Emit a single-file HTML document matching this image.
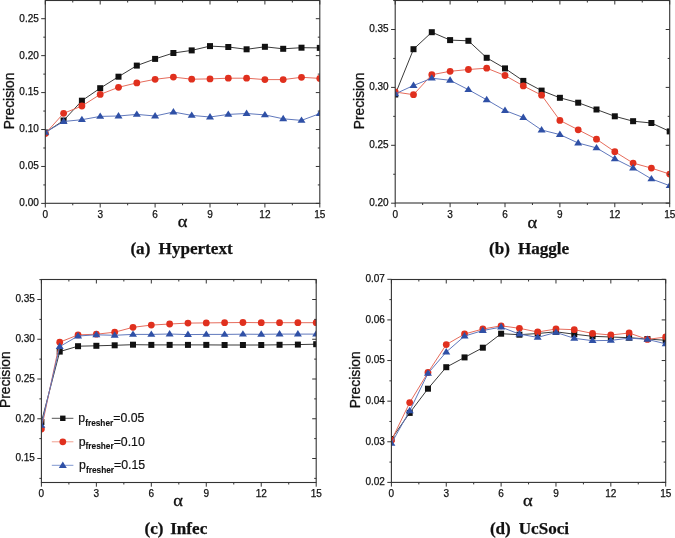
<!DOCTYPE html>
<html><head><meta charset="utf-8"><title>Precision vs alpha</title><style>
html,body{margin:0;padding:0;background:#fff;}
body{width:675px;height:538px;overflow:hidden;}
svg{display:block;}
.tl{font-family:"Liberation Sans",Arial,sans-serif;font-size:10px;fill:#111;stroke:#111;stroke-width:0.25px;}
.yl{font-family:"Liberation Sans",Arial,sans-serif;font-size:13.8px;fill:#111;stroke:#111;stroke-width:0.3px;}
.al{font-family:"Liberation Serif","Times New Roman",serif;font-size:16px;fill:#111;stroke:#111;stroke-width:0.3px;}
.cap{font-family:"Liberation Serif","Times New Roman",serif;font-size:17.1px;font-weight:bold;fill:#111;stroke:#111;stroke-width:0.25px;}
.lg{font-family:"Liberation Sans",Arial,sans-serif;font-size:12.3px;fill:#111;stroke:#111;stroke-width:0.2px;}
.sub{font-size:8.3px;font-weight:bold;stroke-width:0.1px;}
</style></head>
<body>
<svg width="675" height="538" viewBox="0 0 675 538">
<rect width="100%" height="100%" fill="#fff"/>
<defs>
<clipPath id="ca"><rect x="45.3" y="0.5" width="274.50" height="202.80"/></clipPath>
<clipPath id="cb"><rect x="395.2" y="0.5" width="274.50" height="202.50"/></clipPath>
<clipPath id="cc"><rect x="41.4" y="279.5" width="274.80" height="203.00"/></clipPath>
<clipPath id="cd"><rect x="391.4" y="279.5" width="274.30" height="202.90"/></clipPath>
</defs>
<g clip-path="url(#ca)">
<polyline points="45.30,132.50 63.60,120.50 81.90,100.70 100.20,88.20 118.50,76.70 136.80,65.60 155.10,58.90 173.40,53.00 191.70,50.40 210.00,46.10 228.30,47.00 246.60,49.30 264.90,46.80 283.20,48.80 301.50,47.70 319.80,47.90" fill="none" stroke="#3a3a3a" stroke-width="1"/>
<rect x="42.30" y="129.50" width="6.0" height="6.0" fill="#111"/>
<rect x="60.60" y="117.50" width="6.0" height="6.0" fill="#111"/>
<rect x="78.90" y="97.70" width="6.0" height="6.0" fill="#111"/>
<rect x="97.20" y="85.20" width="6.0" height="6.0" fill="#111"/>
<rect x="115.50" y="73.70" width="6.0" height="6.0" fill="#111"/>
<rect x="133.80" y="62.60" width="6.0" height="6.0" fill="#111"/>
<rect x="152.10" y="55.90" width="6.0" height="6.0" fill="#111"/>
<rect x="170.40" y="50.00" width="6.0" height="6.0" fill="#111"/>
<rect x="188.70" y="47.40" width="6.0" height="6.0" fill="#111"/>
<rect x="207.00" y="43.10" width="6.0" height="6.0" fill="#111"/>
<rect x="225.30" y="44.00" width="6.0" height="6.0" fill="#111"/>
<rect x="243.60" y="46.30" width="6.0" height="6.0" fill="#111"/>
<rect x="261.90" y="43.80" width="6.0" height="6.0" fill="#111"/>
<rect x="280.20" y="45.80" width="6.0" height="6.0" fill="#111"/>
<rect x="298.50" y="44.70" width="6.0" height="6.0" fill="#111"/>
<rect x="316.80" y="44.90" width="6.0" height="6.0" fill="#111"/>
<polyline points="45.30,133.60 63.60,113.30 81.90,106.00 100.20,94.40 118.50,87.30 136.80,82.90 155.10,79.30 173.40,77.10 191.70,79.20 210.00,78.90 228.30,78.20 246.60,78.20 264.90,79.60 283.20,79.60 301.50,77.30 319.80,78.40" fill="none" stroke="#e66c5c" stroke-width="1"/>
<circle cx="45.30" cy="133.60" r="3.4" fill="#e0301e"/>
<circle cx="63.60" cy="113.30" r="3.4" fill="#e0301e"/>
<circle cx="81.90" cy="106.00" r="3.4" fill="#e0301e"/>
<circle cx="100.20" cy="94.40" r="3.4" fill="#e0301e"/>
<circle cx="118.50" cy="87.30" r="3.4" fill="#e0301e"/>
<circle cx="136.80" cy="82.90" r="3.4" fill="#e0301e"/>
<circle cx="155.10" cy="79.30" r="3.4" fill="#e0301e"/>
<circle cx="173.40" cy="77.10" r="3.4" fill="#e0301e"/>
<circle cx="191.70" cy="79.20" r="3.4" fill="#e0301e"/>
<circle cx="210.00" cy="78.90" r="3.4" fill="#e0301e"/>
<circle cx="228.30" cy="78.20" r="3.4" fill="#e0301e"/>
<circle cx="246.60" cy="78.20" r="3.4" fill="#e0301e"/>
<circle cx="264.90" cy="79.60" r="3.4" fill="#e0301e"/>
<circle cx="283.20" cy="79.60" r="3.4" fill="#e0301e"/>
<circle cx="301.50" cy="77.30" r="3.4" fill="#e0301e"/>
<circle cx="319.80" cy="78.40" r="3.4" fill="#e0301e"/>
<polyline points="45.30,132.40 63.60,121.50 81.90,119.70 100.20,116.40 118.50,116.00 136.80,114.40 155.10,116.00 173.40,112.00 191.70,115.40 210.00,117.00 228.30,114.40 246.60,113.50 264.90,114.90 283.20,118.80 301.50,120.40 319.80,113.60" fill="none" stroke="#6078bc" stroke-width="1"/>
<polygon points="45.30,128.40 49.30,134.80 41.30,134.80" fill="#2f50a6"/>
<polygon points="63.60,117.50 67.60,123.90 59.60,123.90" fill="#2f50a6"/>
<polygon points="81.90,115.70 85.90,122.10 77.90,122.10" fill="#2f50a6"/>
<polygon points="100.20,112.40 104.20,118.80 96.20,118.80" fill="#2f50a6"/>
<polygon points="118.50,112.00 122.50,118.40 114.50,118.40" fill="#2f50a6"/>
<polygon points="136.80,110.40 140.80,116.80 132.80,116.80" fill="#2f50a6"/>
<polygon points="155.10,112.00 159.10,118.40 151.10,118.40" fill="#2f50a6"/>
<polygon points="173.40,108.00 177.40,114.40 169.40,114.40" fill="#2f50a6"/>
<polygon points="191.70,111.40 195.70,117.80 187.70,117.80" fill="#2f50a6"/>
<polygon points="210.00,113.00 214.00,119.40 206.00,119.40" fill="#2f50a6"/>
<polygon points="228.30,110.40 232.30,116.80 224.30,116.80" fill="#2f50a6"/>
<polygon points="246.60,109.50 250.60,115.90 242.60,115.90" fill="#2f50a6"/>
<polygon points="264.90,110.90 268.90,117.30 260.90,117.30" fill="#2f50a6"/>
<polygon points="283.20,114.80 287.20,121.20 279.20,121.20" fill="#2f50a6"/>
<polygon points="301.50,116.40 305.50,122.80 297.50,122.80" fill="#2f50a6"/>
<polygon points="319.80,109.60 323.80,116.00 315.80,116.00" fill="#2f50a6"/>
</g>
<rect x="45.3" y="0.5" width="274.5" height="202.8" fill="none" stroke="#333" stroke-width="1.1"/>
<line x1="45.30" y1="203.3" x2="45.30" y2="207.5" stroke="#333" stroke-width="1"/>
<line x1="45.30" y1="0.5" x2="45.30" y2="4.5" stroke="#333" stroke-width="1"/>
<text x="45.30" y="217.9" class="tl" text-anchor="middle">0</text>
<line x1="100.20" y1="203.3" x2="100.20" y2="207.5" stroke="#333" stroke-width="1"/>
<line x1="100.20" y1="0.5" x2="100.20" y2="4.5" stroke="#333" stroke-width="1"/>
<text x="100.20" y="217.9" class="tl" text-anchor="middle">3</text>
<line x1="155.10" y1="203.3" x2="155.10" y2="207.5" stroke="#333" stroke-width="1"/>
<line x1="155.10" y1="0.5" x2="155.10" y2="4.5" stroke="#333" stroke-width="1"/>
<text x="155.10" y="217.9" class="tl" text-anchor="middle">6</text>
<line x1="210.00" y1="203.3" x2="210.00" y2="207.5" stroke="#333" stroke-width="1"/>
<line x1="210.00" y1="0.5" x2="210.00" y2="4.5" stroke="#333" stroke-width="1"/>
<text x="210.00" y="217.9" class="tl" text-anchor="middle">9</text>
<line x1="264.90" y1="203.3" x2="264.90" y2="207.5" stroke="#333" stroke-width="1"/>
<line x1="264.90" y1="0.5" x2="264.90" y2="4.5" stroke="#333" stroke-width="1"/>
<text x="264.90" y="217.9" class="tl" text-anchor="middle">12</text>
<line x1="319.80" y1="203.3" x2="319.80" y2="207.5" stroke="#333" stroke-width="1"/>
<line x1="319.80" y1="0.5" x2="319.80" y2="4.5" stroke="#333" stroke-width="1"/>
<text x="319.80" y="217.9" class="tl" text-anchor="middle">15</text>
<line x1="72.75" y1="203.3" x2="72.75" y2="205.3" stroke="#333" stroke-width="1"/>
<line x1="72.75" y1="0.5" x2="72.75" y2="2.5" stroke="#333" stroke-width="1"/>
<line x1="127.65" y1="203.3" x2="127.65" y2="205.3" stroke="#333" stroke-width="1"/>
<line x1="127.65" y1="0.5" x2="127.65" y2="2.5" stroke="#333" stroke-width="1"/>
<line x1="182.55" y1="203.3" x2="182.55" y2="205.3" stroke="#333" stroke-width="1"/>
<line x1="182.55" y1="0.5" x2="182.55" y2="2.5" stroke="#333" stroke-width="1"/>
<line x1="237.45" y1="203.3" x2="237.45" y2="205.3" stroke="#333" stroke-width="1"/>
<line x1="237.45" y1="0.5" x2="237.45" y2="2.5" stroke="#333" stroke-width="1"/>
<line x1="292.35" y1="203.3" x2="292.35" y2="205.3" stroke="#333" stroke-width="1"/>
<line x1="292.35" y1="0.5" x2="292.35" y2="2.5" stroke="#333" stroke-width="1"/>
<line x1="41.199999999999996" y1="203.40" x2="45.3" y2="203.40" stroke="#333" stroke-width="1"/>
<line x1="315.8" y1="203.40" x2="319.8" y2="203.40" stroke="#333" stroke-width="1"/>
<text x="38.8" y="206.30" class="tl" text-anchor="end">0.00</text>
<line x1="41.199999999999996" y1="166.46" x2="45.3" y2="166.46" stroke="#333" stroke-width="1"/>
<line x1="315.8" y1="166.46" x2="319.8" y2="166.46" stroke="#333" stroke-width="1"/>
<text x="38.8" y="169.36" class="tl" text-anchor="end">0.05</text>
<line x1="41.199999999999996" y1="129.52" x2="45.3" y2="129.52" stroke="#333" stroke-width="1"/>
<line x1="315.8" y1="129.52" x2="319.8" y2="129.52" stroke="#333" stroke-width="1"/>
<text x="38.8" y="132.42" class="tl" text-anchor="end">0.10</text>
<line x1="41.199999999999996" y1="92.58" x2="45.3" y2="92.58" stroke="#333" stroke-width="1"/>
<line x1="315.8" y1="92.58" x2="319.8" y2="92.58" stroke="#333" stroke-width="1"/>
<text x="38.8" y="95.48" class="tl" text-anchor="end">0.15</text>
<line x1="41.199999999999996" y1="55.64" x2="45.3" y2="55.64" stroke="#333" stroke-width="1"/>
<line x1="315.8" y1="55.64" x2="319.8" y2="55.64" stroke="#333" stroke-width="1"/>
<text x="38.8" y="58.54" class="tl" text-anchor="end">0.20</text>
<line x1="41.199999999999996" y1="18.70" x2="45.3" y2="18.70" stroke="#333" stroke-width="1"/>
<line x1="315.8" y1="18.70" x2="319.8" y2="18.70" stroke="#333" stroke-width="1"/>
<text x="38.8" y="21.60" class="tl" text-anchor="end">0.25</text>
<line x1="43.3" y1="184.93" x2="45.3" y2="184.93" stroke="#333" stroke-width="1"/>
<line x1="317.8" y1="184.93" x2="319.8" y2="184.93" stroke="#333" stroke-width="1"/>
<line x1="43.3" y1="147.99" x2="45.3" y2="147.99" stroke="#333" stroke-width="1"/>
<line x1="317.8" y1="147.99" x2="319.8" y2="147.99" stroke="#333" stroke-width="1"/>
<line x1="43.3" y1="111.05" x2="45.3" y2="111.05" stroke="#333" stroke-width="1"/>
<line x1="317.8" y1="111.05" x2="319.8" y2="111.05" stroke="#333" stroke-width="1"/>
<line x1="43.3" y1="74.11" x2="45.3" y2="74.11" stroke="#333" stroke-width="1"/>
<line x1="317.8" y1="74.11" x2="319.8" y2="74.11" stroke="#333" stroke-width="1"/>
<line x1="43.3" y1="37.17" x2="45.3" y2="37.17" stroke="#333" stroke-width="1"/>
<line x1="317.8" y1="37.17" x2="319.8" y2="37.17" stroke="#333" stroke-width="1"/>
<text class="yl" transform="translate(14.4,100.9) rotate(-90)" text-anchor="middle">Precision</text>
<text class="al" transform="translate(182.65,227.1) scale(1.15,1)" text-anchor="middle">α</text>
<text class="cap" transform="translate(130.40,253.5) scale(1.0,1)">(a)</text>
<text class="cap" transform="translate(158.60,253.5) scale(1.0,1)">Hypertext</text>
<g clip-path="url(#cb)">
<polyline points="395.20,94.50 413.50,49.20 431.80,32.20 450.10,40.10 468.40,40.80 486.70,57.80 505.00,68.40 523.30,80.90 541.60,90.60 559.90,97.80 578.20,102.70 596.50,109.50 614.80,116.30 633.10,121.20 651.40,123.00 669.70,131.40" fill="none" stroke="#3a3a3a" stroke-width="1"/>
<rect x="392.20" y="91.50" width="6.0" height="6.0" fill="#111"/>
<rect x="410.50" y="46.20" width="6.0" height="6.0" fill="#111"/>
<rect x="428.80" y="29.20" width="6.0" height="6.0" fill="#111"/>
<rect x="447.10" y="37.10" width="6.0" height="6.0" fill="#111"/>
<rect x="465.40" y="37.80" width="6.0" height="6.0" fill="#111"/>
<rect x="483.70" y="54.80" width="6.0" height="6.0" fill="#111"/>
<rect x="502.00" y="65.40" width="6.0" height="6.0" fill="#111"/>
<rect x="520.30" y="77.90" width="6.0" height="6.0" fill="#111"/>
<rect x="538.60" y="87.60" width="6.0" height="6.0" fill="#111"/>
<rect x="556.90" y="94.80" width="6.0" height="6.0" fill="#111"/>
<rect x="575.20" y="99.70" width="6.0" height="6.0" fill="#111"/>
<rect x="593.50" y="106.50" width="6.0" height="6.0" fill="#111"/>
<rect x="611.80" y="113.30" width="6.0" height="6.0" fill="#111"/>
<rect x="630.10" y="118.20" width="6.0" height="6.0" fill="#111"/>
<rect x="648.40" y="120.00" width="6.0" height="6.0" fill="#111"/>
<rect x="666.70" y="128.40" width="6.0" height="6.0" fill="#111"/>
<polyline points="395.20,92.00 413.50,94.70 431.80,74.70 450.10,71.30 468.40,69.50 486.70,68.20 505.00,75.50 523.30,85.90 541.60,95.20 559.90,120.40 578.20,129.80 596.50,139.20 614.80,151.70 633.10,163.10 651.40,168.10 669.70,174.10" fill="none" stroke="#e66c5c" stroke-width="1"/>
<circle cx="395.20" cy="92.00" r="3.4" fill="#e0301e"/>
<circle cx="413.50" cy="94.70" r="3.4" fill="#e0301e"/>
<circle cx="431.80" cy="74.70" r="3.4" fill="#e0301e"/>
<circle cx="450.10" cy="71.30" r="3.4" fill="#e0301e"/>
<circle cx="468.40" cy="69.50" r="3.4" fill="#e0301e"/>
<circle cx="486.70" cy="68.20" r="3.4" fill="#e0301e"/>
<circle cx="505.00" cy="75.50" r="3.4" fill="#e0301e"/>
<circle cx="523.30" cy="85.90" r="3.4" fill="#e0301e"/>
<circle cx="541.60" cy="95.20" r="3.4" fill="#e0301e"/>
<circle cx="559.90" cy="120.40" r="3.4" fill="#e0301e"/>
<circle cx="578.20" cy="129.80" r="3.4" fill="#e0301e"/>
<circle cx="596.50" cy="139.20" r="3.4" fill="#e0301e"/>
<circle cx="614.80" cy="151.70" r="3.4" fill="#e0301e"/>
<circle cx="633.10" cy="163.10" r="3.4" fill="#e0301e"/>
<circle cx="651.40" cy="168.10" r="3.4" fill="#e0301e"/>
<circle cx="669.70" cy="174.10" r="3.4" fill="#e0301e"/>
<polyline points="395.20,93.90 413.50,85.50 431.80,78.20 450.10,80.30 468.40,89.70 486.70,99.80 505.00,110.50 523.30,117.50 541.60,130.00 559.90,134.60 578.20,143.00 596.50,147.90 614.80,158.80 633.10,168.00 651.40,178.90 669.70,185.70" fill="none" stroke="#6078bc" stroke-width="1"/>
<polygon points="395.20,89.90 399.20,96.30 391.20,96.30" fill="#2f50a6"/>
<polygon points="413.50,81.50 417.50,87.90 409.50,87.90" fill="#2f50a6"/>
<polygon points="431.80,74.20 435.80,80.60 427.80,80.60" fill="#2f50a6"/>
<polygon points="450.10,76.30 454.10,82.70 446.10,82.70" fill="#2f50a6"/>
<polygon points="468.40,85.70 472.40,92.10 464.40,92.10" fill="#2f50a6"/>
<polygon points="486.70,95.80 490.70,102.20 482.70,102.20" fill="#2f50a6"/>
<polygon points="505.00,106.50 509.00,112.90 501.00,112.90" fill="#2f50a6"/>
<polygon points="523.30,113.50 527.30,119.90 519.30,119.90" fill="#2f50a6"/>
<polygon points="541.60,126.00 545.60,132.40 537.60,132.40" fill="#2f50a6"/>
<polygon points="559.90,130.60 563.90,137.00 555.90,137.00" fill="#2f50a6"/>
<polygon points="578.20,139.00 582.20,145.40 574.20,145.40" fill="#2f50a6"/>
<polygon points="596.50,143.90 600.50,150.30 592.50,150.30" fill="#2f50a6"/>
<polygon points="614.80,154.80 618.80,161.20 610.80,161.20" fill="#2f50a6"/>
<polygon points="633.10,164.00 637.10,170.40 629.10,170.40" fill="#2f50a6"/>
<polygon points="651.40,174.90 655.40,181.30 647.40,181.30" fill="#2f50a6"/>
<polygon points="669.70,181.70 673.70,188.10 665.70,188.10" fill="#2f50a6"/>
</g>
<rect x="395.2" y="0.5" width="274.50000000000006" height="202.5" fill="none" stroke="#333" stroke-width="1.1"/>
<line x1="395.20" y1="203.0" x2="395.20" y2="207.2" stroke="#333" stroke-width="1"/>
<line x1="395.20" y1="0.5" x2="395.20" y2="4.5" stroke="#333" stroke-width="1"/>
<text x="395.20" y="217.6" class="tl" text-anchor="middle">0</text>
<line x1="450.10" y1="203.0" x2="450.10" y2="207.2" stroke="#333" stroke-width="1"/>
<line x1="450.10" y1="0.5" x2="450.10" y2="4.5" stroke="#333" stroke-width="1"/>
<text x="450.10" y="217.6" class="tl" text-anchor="middle">3</text>
<line x1="505.00" y1="203.0" x2="505.00" y2="207.2" stroke="#333" stroke-width="1"/>
<line x1="505.00" y1="0.5" x2="505.00" y2="4.5" stroke="#333" stroke-width="1"/>
<text x="505.00" y="217.6" class="tl" text-anchor="middle">6</text>
<line x1="559.90" y1="203.0" x2="559.90" y2="207.2" stroke="#333" stroke-width="1"/>
<line x1="559.90" y1="0.5" x2="559.90" y2="4.5" stroke="#333" stroke-width="1"/>
<text x="559.90" y="217.6" class="tl" text-anchor="middle">9</text>
<line x1="614.80" y1="203.0" x2="614.80" y2="207.2" stroke="#333" stroke-width="1"/>
<line x1="614.80" y1="0.5" x2="614.80" y2="4.5" stroke="#333" stroke-width="1"/>
<text x="614.80" y="217.6" class="tl" text-anchor="middle">12</text>
<line x1="669.70" y1="203.0" x2="669.70" y2="207.2" stroke="#333" stroke-width="1"/>
<line x1="669.70" y1="0.5" x2="669.70" y2="4.5" stroke="#333" stroke-width="1"/>
<text x="669.70" y="217.6" class="tl" text-anchor="middle">15</text>
<line x1="422.65" y1="203.0" x2="422.65" y2="205.0" stroke="#333" stroke-width="1"/>
<line x1="422.65" y1="0.5" x2="422.65" y2="2.5" stroke="#333" stroke-width="1"/>
<line x1="477.55" y1="203.0" x2="477.55" y2="205.0" stroke="#333" stroke-width="1"/>
<line x1="477.55" y1="0.5" x2="477.55" y2="2.5" stroke="#333" stroke-width="1"/>
<line x1="532.45" y1="203.0" x2="532.45" y2="205.0" stroke="#333" stroke-width="1"/>
<line x1="532.45" y1="0.5" x2="532.45" y2="2.5" stroke="#333" stroke-width="1"/>
<line x1="587.35" y1="203.0" x2="587.35" y2="205.0" stroke="#333" stroke-width="1"/>
<line x1="587.35" y1="0.5" x2="587.35" y2="2.5" stroke="#333" stroke-width="1"/>
<line x1="642.25" y1="203.0" x2="642.25" y2="205.0" stroke="#333" stroke-width="1"/>
<line x1="642.25" y1="0.5" x2="642.25" y2="2.5" stroke="#333" stroke-width="1"/>
<line x1="391.09999999999997" y1="203.20" x2="395.2" y2="203.20" stroke="#333" stroke-width="1"/>
<line x1="665.7" y1="203.20" x2="669.7" y2="203.20" stroke="#333" stroke-width="1"/>
<text x="388.7" y="206.10" class="tl" text-anchor="end">0.20</text>
<line x1="391.09999999999997" y1="145.30" x2="395.2" y2="145.30" stroke="#333" stroke-width="1"/>
<line x1="665.7" y1="145.30" x2="669.7" y2="145.30" stroke="#333" stroke-width="1"/>
<text x="388.7" y="148.20" class="tl" text-anchor="end">0.25</text>
<line x1="391.09999999999997" y1="87.40" x2="395.2" y2="87.40" stroke="#333" stroke-width="1"/>
<line x1="665.7" y1="87.40" x2="669.7" y2="87.40" stroke="#333" stroke-width="1"/>
<text x="388.7" y="90.30" class="tl" text-anchor="end">0.30</text>
<line x1="391.09999999999997" y1="29.50" x2="395.2" y2="29.50" stroke="#333" stroke-width="1"/>
<line x1="665.7" y1="29.50" x2="669.7" y2="29.50" stroke="#333" stroke-width="1"/>
<text x="388.7" y="32.40" class="tl" text-anchor="end">0.35</text>
<line x1="393.2" y1="174.25" x2="395.2" y2="174.25" stroke="#333" stroke-width="1"/>
<line x1="667.7" y1="174.25" x2="669.7" y2="174.25" stroke="#333" stroke-width="1"/>
<line x1="393.2" y1="116.35" x2="395.2" y2="116.35" stroke="#333" stroke-width="1"/>
<line x1="667.7" y1="116.35" x2="669.7" y2="116.35" stroke="#333" stroke-width="1"/>
<line x1="393.2" y1="58.45" x2="395.2" y2="58.45" stroke="#333" stroke-width="1"/>
<line x1="667.7" y1="58.45" x2="669.7" y2="58.45" stroke="#333" stroke-width="1"/>
<line x1="393.2" y1="0.55" x2="395.2" y2="0.55" stroke="#333" stroke-width="1"/>
<line x1="667.7" y1="0.55" x2="669.7" y2="0.55" stroke="#333" stroke-width="1"/>
<text class="yl" transform="translate(363.7,100.9) rotate(-90)" text-anchor="middle">Precision</text>
<text class="al" transform="translate(532.3,228.1) scale(1.15,1)" text-anchor="middle">α</text>
<text class="cap" transform="translate(489.00,254.0) scale(1.0,1)">(b)</text>
<text class="cap" transform="translate(517.90,254.0) scale(1.0,1)">Haggle</text>
<g clip-path="url(#cc)">
<polyline points="41.40,422.00 59.72,351.60 78.04,346.20 96.36,345.80 114.68,345.30 133.00,344.70 151.32,344.90 169.64,344.90 187.96,344.90 206.28,344.90 224.60,345.00 242.92,345.00 261.24,345.00 279.56,344.80 297.88,344.60 316.20,344.20" fill="none" stroke="#3a3a3a" stroke-width="1"/>
<rect x="38.40" y="419.00" width="6.0" height="6.0" fill="#111"/>
<rect x="56.72" y="348.60" width="6.0" height="6.0" fill="#111"/>
<rect x="75.04" y="343.20" width="6.0" height="6.0" fill="#111"/>
<rect x="93.36" y="342.80" width="6.0" height="6.0" fill="#111"/>
<rect x="111.68" y="342.30" width="6.0" height="6.0" fill="#111"/>
<rect x="130.00" y="341.70" width="6.0" height="6.0" fill="#111"/>
<rect x="148.32" y="341.90" width="6.0" height="6.0" fill="#111"/>
<rect x="166.64" y="341.90" width="6.0" height="6.0" fill="#111"/>
<rect x="184.96" y="341.90" width="6.0" height="6.0" fill="#111"/>
<rect x="203.28" y="341.90" width="6.0" height="6.0" fill="#111"/>
<rect x="221.60" y="342.00" width="6.0" height="6.0" fill="#111"/>
<rect x="239.92" y="342.00" width="6.0" height="6.0" fill="#111"/>
<rect x="258.24" y="342.00" width="6.0" height="6.0" fill="#111"/>
<rect x="276.56" y="341.80" width="6.0" height="6.0" fill="#111"/>
<rect x="294.88" y="341.60" width="6.0" height="6.0" fill="#111"/>
<rect x="313.20" y="341.20" width="6.0" height="6.0" fill="#111"/>
<polyline points="41.40,429.00 59.72,342.20 78.04,334.90 96.36,334.20 114.68,332.20 133.00,327.30 151.32,325.10 169.64,324.00 187.96,323.10 206.28,322.90 224.60,322.70 242.92,322.50 261.24,322.70 279.56,322.70 297.88,322.70 316.20,322.70" fill="none" stroke="#e66c5c" stroke-width="1"/>
<circle cx="41.40" cy="429.00" r="3.4" fill="#e0301e"/>
<circle cx="59.72" cy="342.20" r="3.4" fill="#e0301e"/>
<circle cx="78.04" cy="334.90" r="3.4" fill="#e0301e"/>
<circle cx="96.36" cy="334.20" r="3.4" fill="#e0301e"/>
<circle cx="114.68" cy="332.20" r="3.4" fill="#e0301e"/>
<circle cx="133.00" cy="327.30" r="3.4" fill="#e0301e"/>
<circle cx="151.32" cy="325.10" r="3.4" fill="#e0301e"/>
<circle cx="169.64" cy="324.00" r="3.4" fill="#e0301e"/>
<circle cx="187.96" cy="323.10" r="3.4" fill="#e0301e"/>
<circle cx="206.28" cy="322.90" r="3.4" fill="#e0301e"/>
<circle cx="224.60" cy="322.70" r="3.4" fill="#e0301e"/>
<circle cx="242.92" cy="322.50" r="3.4" fill="#e0301e"/>
<circle cx="261.24" cy="322.70" r="3.4" fill="#e0301e"/>
<circle cx="279.56" cy="322.70" r="3.4" fill="#e0301e"/>
<circle cx="297.88" cy="322.70" r="3.4" fill="#e0301e"/>
<circle cx="316.20" cy="322.70" r="3.4" fill="#e0301e"/>
<polyline points="41.40,425.40 59.72,346.60 78.04,336.00 96.36,334.80 114.68,335.30 133.00,334.40 151.32,334.40 169.64,334.00 187.96,334.60 206.28,334.40 224.60,334.40 242.92,334.20 261.24,334.30 279.56,334.10 297.88,334.10 316.20,334.10" fill="none" stroke="#6078bc" stroke-width="1"/>
<polygon points="41.40,421.40 45.40,427.80 37.40,427.80" fill="#2f50a6"/>
<polygon points="59.72,342.60 63.72,349.00 55.72,349.00" fill="#2f50a6"/>
<polygon points="78.04,332.00 82.04,338.40 74.04,338.40" fill="#2f50a6"/>
<polygon points="96.36,330.80 100.36,337.20 92.36,337.20" fill="#2f50a6"/>
<polygon points="114.68,331.30 118.68,337.70 110.68,337.70" fill="#2f50a6"/>
<polygon points="133.00,330.40 137.00,336.80 129.00,336.80" fill="#2f50a6"/>
<polygon points="151.32,330.40 155.32,336.80 147.32,336.80" fill="#2f50a6"/>
<polygon points="169.64,330.00 173.64,336.40 165.64,336.40" fill="#2f50a6"/>
<polygon points="187.96,330.60 191.96,337.00 183.96,337.00" fill="#2f50a6"/>
<polygon points="206.28,330.40 210.28,336.80 202.28,336.80" fill="#2f50a6"/>
<polygon points="224.60,330.40 228.60,336.80 220.60,336.80" fill="#2f50a6"/>
<polygon points="242.92,330.20 246.92,336.60 238.92,336.60" fill="#2f50a6"/>
<polygon points="261.24,330.30 265.24,336.70 257.24,336.70" fill="#2f50a6"/>
<polygon points="279.56,330.10 283.56,336.50 275.56,336.50" fill="#2f50a6"/>
<polygon points="297.88,330.10 301.88,336.50 293.88,336.50" fill="#2f50a6"/>
<polygon points="316.20,330.10 320.20,336.50 312.20,336.50" fill="#2f50a6"/>
</g>
<rect x="41.4" y="279.5" width="274.8" height="203.0" fill="none" stroke="#333" stroke-width="1.1"/>
<line x1="41.40" y1="482.5" x2="41.40" y2="486.7" stroke="#333" stroke-width="1"/>
<line x1="41.40" y1="279.5" x2="41.40" y2="283.5" stroke="#333" stroke-width="1"/>
<text x="41.40" y="497.1" class="tl" text-anchor="middle">0</text>
<line x1="96.36" y1="482.5" x2="96.36" y2="486.7" stroke="#333" stroke-width="1"/>
<line x1="96.36" y1="279.5" x2="96.36" y2="283.5" stroke="#333" stroke-width="1"/>
<text x="96.36" y="497.1" class="tl" text-anchor="middle">3</text>
<line x1="151.32" y1="482.5" x2="151.32" y2="486.7" stroke="#333" stroke-width="1"/>
<line x1="151.32" y1="279.5" x2="151.32" y2="283.5" stroke="#333" stroke-width="1"/>
<text x="151.32" y="497.1" class="tl" text-anchor="middle">6</text>
<line x1="206.28" y1="482.5" x2="206.28" y2="486.7" stroke="#333" stroke-width="1"/>
<line x1="206.28" y1="279.5" x2="206.28" y2="283.5" stroke="#333" stroke-width="1"/>
<text x="206.28" y="497.1" class="tl" text-anchor="middle">9</text>
<line x1="261.24" y1="482.5" x2="261.24" y2="486.7" stroke="#333" stroke-width="1"/>
<line x1="261.24" y1="279.5" x2="261.24" y2="283.5" stroke="#333" stroke-width="1"/>
<text x="261.24" y="497.1" class="tl" text-anchor="middle">12</text>
<line x1="316.20" y1="482.5" x2="316.20" y2="486.7" stroke="#333" stroke-width="1"/>
<line x1="316.20" y1="279.5" x2="316.20" y2="283.5" stroke="#333" stroke-width="1"/>
<text x="316.20" y="497.1" class="tl" text-anchor="middle">15</text>
<line x1="68.88" y1="482.5" x2="68.88" y2="484.5" stroke="#333" stroke-width="1"/>
<line x1="68.88" y1="279.5" x2="68.88" y2="281.5" stroke="#333" stroke-width="1"/>
<line x1="123.84" y1="482.5" x2="123.84" y2="484.5" stroke="#333" stroke-width="1"/>
<line x1="123.84" y1="279.5" x2="123.84" y2="281.5" stroke="#333" stroke-width="1"/>
<line x1="178.80" y1="482.5" x2="178.80" y2="484.5" stroke="#333" stroke-width="1"/>
<line x1="178.80" y1="279.5" x2="178.80" y2="281.5" stroke="#333" stroke-width="1"/>
<line x1="233.76" y1="482.5" x2="233.76" y2="484.5" stroke="#333" stroke-width="1"/>
<line x1="233.76" y1="279.5" x2="233.76" y2="281.5" stroke="#333" stroke-width="1"/>
<line x1="288.72" y1="482.5" x2="288.72" y2="484.5" stroke="#333" stroke-width="1"/>
<line x1="288.72" y1="279.5" x2="288.72" y2="281.5" stroke="#333" stroke-width="1"/>
<line x1="37.3" y1="458.50" x2="41.4" y2="458.50" stroke="#333" stroke-width="1"/>
<line x1="312.2" y1="458.50" x2="316.2" y2="458.50" stroke="#333" stroke-width="1"/>
<text x="34.9" y="461.40" class="tl" text-anchor="end">0.15</text>
<line x1="37.3" y1="418.75" x2="41.4" y2="418.75" stroke="#333" stroke-width="1"/>
<line x1="312.2" y1="418.75" x2="316.2" y2="418.75" stroke="#333" stroke-width="1"/>
<text x="34.9" y="421.65" class="tl" text-anchor="end">0.20</text>
<line x1="37.3" y1="379.00" x2="41.4" y2="379.00" stroke="#333" stroke-width="1"/>
<line x1="312.2" y1="379.00" x2="316.2" y2="379.00" stroke="#333" stroke-width="1"/>
<text x="34.9" y="381.90" class="tl" text-anchor="end">0.25</text>
<line x1="37.3" y1="339.25" x2="41.4" y2="339.25" stroke="#333" stroke-width="1"/>
<line x1="312.2" y1="339.25" x2="316.2" y2="339.25" stroke="#333" stroke-width="1"/>
<text x="34.9" y="342.15" class="tl" text-anchor="end">0.30</text>
<line x1="37.3" y1="299.50" x2="41.4" y2="299.50" stroke="#333" stroke-width="1"/>
<line x1="312.2" y1="299.50" x2="316.2" y2="299.50" stroke="#333" stroke-width="1"/>
<text x="34.9" y="302.40" class="tl" text-anchor="end">0.35</text>
<line x1="39.4" y1="478.38" x2="41.4" y2="478.38" stroke="#333" stroke-width="1"/>
<line x1="314.2" y1="478.38" x2="316.2" y2="478.38" stroke="#333" stroke-width="1"/>
<line x1="39.4" y1="438.62" x2="41.4" y2="438.62" stroke="#333" stroke-width="1"/>
<line x1="314.2" y1="438.62" x2="316.2" y2="438.62" stroke="#333" stroke-width="1"/>
<line x1="39.4" y1="398.88" x2="41.4" y2="398.88" stroke="#333" stroke-width="1"/>
<line x1="314.2" y1="398.88" x2="316.2" y2="398.88" stroke="#333" stroke-width="1"/>
<line x1="39.4" y1="359.12" x2="41.4" y2="359.12" stroke="#333" stroke-width="1"/>
<line x1="314.2" y1="359.12" x2="316.2" y2="359.12" stroke="#333" stroke-width="1"/>
<line x1="39.4" y1="319.38" x2="41.4" y2="319.38" stroke="#333" stroke-width="1"/>
<line x1="314.2" y1="319.38" x2="316.2" y2="319.38" stroke="#333" stroke-width="1"/>
<line x1="39.4" y1="279.62" x2="41.4" y2="279.62" stroke="#333" stroke-width="1"/>
<line x1="314.2" y1="279.62" x2="316.2" y2="279.62" stroke="#333" stroke-width="1"/>
<text class="yl" transform="translate(10.4,379.7) rotate(-90)" text-anchor="middle">Precision</text>
<text class="al" transform="translate(178.0,505.6) scale(1.15,1)" text-anchor="middle">α</text>
<text class="cap" transform="translate(144.50,533.6) scale(1.0,1)">(c)</text>
<text class="cap" transform="translate(170.20,533.6) scale(1.0,1)">Infec</text>
<g clip-path="url(#cd)">
<polyline points="391.40,439.00 409.69,412.90 427.97,388.70 446.26,367.20 464.55,357.40 482.83,347.70 501.12,333.70 519.41,334.70 537.69,333.50 555.98,331.80 574.27,334.20 592.55,336.30 610.84,337.00 629.13,337.70 647.41,339.00 665.70,340.30" fill="none" stroke="#3a3a3a" stroke-width="1"/>
<rect x="388.40" y="436.00" width="6.0" height="6.0" fill="#111"/>
<rect x="406.69" y="409.90" width="6.0" height="6.0" fill="#111"/>
<rect x="424.97" y="385.70" width="6.0" height="6.0" fill="#111"/>
<rect x="443.26" y="364.20" width="6.0" height="6.0" fill="#111"/>
<rect x="461.55" y="354.40" width="6.0" height="6.0" fill="#111"/>
<rect x="479.83" y="344.70" width="6.0" height="6.0" fill="#111"/>
<rect x="498.12" y="330.70" width="6.0" height="6.0" fill="#111"/>
<rect x="516.41" y="331.70" width="6.0" height="6.0" fill="#111"/>
<rect x="534.69" y="330.50" width="6.0" height="6.0" fill="#111"/>
<rect x="552.98" y="328.80" width="6.0" height="6.0" fill="#111"/>
<rect x="571.27" y="331.20" width="6.0" height="6.0" fill="#111"/>
<rect x="589.55" y="333.30" width="6.0" height="6.0" fill="#111"/>
<rect x="607.84" y="334.00" width="6.0" height="6.0" fill="#111"/>
<rect x="626.13" y="334.70" width="6.0" height="6.0" fill="#111"/>
<rect x="644.41" y="336.00" width="6.0" height="6.0" fill="#111"/>
<rect x="662.70" y="337.30" width="6.0" height="6.0" fill="#111"/>
<polyline points="391.40,440.50 409.69,402.60 427.97,372.50 446.26,344.60 464.55,334.00 482.83,329.00 501.12,325.80 519.41,328.30 537.69,332.00 555.98,329.00 574.27,329.70 592.55,333.40 610.84,335.00 629.13,333.00 647.41,339.40 665.70,337.00" fill="none" stroke="#e66c5c" stroke-width="1"/>
<circle cx="391.40" cy="440.50" r="3.4" fill="#e0301e"/>
<circle cx="409.69" cy="402.60" r="3.4" fill="#e0301e"/>
<circle cx="427.97" cy="372.50" r="3.4" fill="#e0301e"/>
<circle cx="446.26" cy="344.60" r="3.4" fill="#e0301e"/>
<circle cx="464.55" cy="334.00" r="3.4" fill="#e0301e"/>
<circle cx="482.83" cy="329.00" r="3.4" fill="#e0301e"/>
<circle cx="501.12" cy="325.80" r="3.4" fill="#e0301e"/>
<circle cx="519.41" cy="328.30" r="3.4" fill="#e0301e"/>
<circle cx="537.69" cy="332.00" r="3.4" fill="#e0301e"/>
<circle cx="555.98" cy="329.00" r="3.4" fill="#e0301e"/>
<circle cx="574.27" cy="329.70" r="3.4" fill="#e0301e"/>
<circle cx="592.55" cy="333.40" r="3.4" fill="#e0301e"/>
<circle cx="610.84" cy="335.00" r="3.4" fill="#e0301e"/>
<circle cx="629.13" cy="333.00" r="3.4" fill="#e0301e"/>
<circle cx="647.41" cy="339.40" r="3.4" fill="#e0301e"/>
<circle cx="665.70" cy="337.00" r="3.4" fill="#e0301e"/>
<polyline points="391.40,443.40 409.69,410.80 427.97,373.40 446.26,352.00 464.55,336.10 482.83,330.50 501.12,327.10 519.41,334.10 537.69,337.40 555.98,332.40 574.27,338.30 592.55,340.70 610.84,340.40 629.13,338.10 647.41,339.40 665.70,343.80" fill="none" stroke="#6078bc" stroke-width="1"/>
<polygon points="391.40,439.40 395.40,445.80 387.40,445.80" fill="#2f50a6"/>
<polygon points="409.69,406.80 413.69,413.20 405.69,413.20" fill="#2f50a6"/>
<polygon points="427.97,369.40 431.97,375.80 423.97,375.80" fill="#2f50a6"/>
<polygon points="446.26,348.00 450.26,354.40 442.26,354.40" fill="#2f50a6"/>
<polygon points="464.55,332.10 468.55,338.50 460.55,338.50" fill="#2f50a6"/>
<polygon points="482.83,326.50 486.83,332.90 478.83,332.90" fill="#2f50a6"/>
<polygon points="501.12,323.10 505.12,329.50 497.12,329.50" fill="#2f50a6"/>
<polygon points="519.41,330.10 523.41,336.50 515.41,336.50" fill="#2f50a6"/>
<polygon points="537.69,333.40 541.69,339.80 533.69,339.80" fill="#2f50a6"/>
<polygon points="555.98,328.40 559.98,334.80 551.98,334.80" fill="#2f50a6"/>
<polygon points="574.27,334.30 578.27,340.70 570.27,340.70" fill="#2f50a6"/>
<polygon points="592.55,336.70 596.55,343.10 588.55,343.10" fill="#2f50a6"/>
<polygon points="610.84,336.40 614.84,342.80 606.84,342.80" fill="#2f50a6"/>
<polygon points="629.13,334.10 633.13,340.50 625.13,340.50" fill="#2f50a6"/>
<polygon points="647.41,335.40 651.41,341.80 643.41,341.80" fill="#2f50a6"/>
<polygon points="665.70,339.80 669.70,346.20 661.70,346.20" fill="#2f50a6"/>
</g>
<rect x="391.4" y="279.5" width="274.30000000000007" height="202.89999999999998" fill="none" stroke="#333" stroke-width="1.1"/>
<line x1="391.40" y1="482.4" x2="391.40" y2="486.59999999999997" stroke="#333" stroke-width="1"/>
<line x1="391.40" y1="279.5" x2="391.40" y2="283.5" stroke="#333" stroke-width="1"/>
<text x="391.40" y="497.0" class="tl" text-anchor="middle">0</text>
<line x1="446.26" y1="482.4" x2="446.26" y2="486.59999999999997" stroke="#333" stroke-width="1"/>
<line x1="446.26" y1="279.5" x2="446.26" y2="283.5" stroke="#333" stroke-width="1"/>
<text x="446.26" y="497.0" class="tl" text-anchor="middle">3</text>
<line x1="501.12" y1="482.4" x2="501.12" y2="486.59999999999997" stroke="#333" stroke-width="1"/>
<line x1="501.12" y1="279.5" x2="501.12" y2="283.5" stroke="#333" stroke-width="1"/>
<text x="501.12" y="497.0" class="tl" text-anchor="middle">6</text>
<line x1="555.98" y1="482.4" x2="555.98" y2="486.59999999999997" stroke="#333" stroke-width="1"/>
<line x1="555.98" y1="279.5" x2="555.98" y2="283.5" stroke="#333" stroke-width="1"/>
<text x="555.98" y="497.0" class="tl" text-anchor="middle">9</text>
<line x1="610.84" y1="482.4" x2="610.84" y2="486.59999999999997" stroke="#333" stroke-width="1"/>
<line x1="610.84" y1="279.5" x2="610.84" y2="283.5" stroke="#333" stroke-width="1"/>
<text x="610.84" y="497.0" class="tl" text-anchor="middle">12</text>
<line x1="665.70" y1="482.4" x2="665.70" y2="486.59999999999997" stroke="#333" stroke-width="1"/>
<line x1="665.70" y1="279.5" x2="665.70" y2="283.5" stroke="#333" stroke-width="1"/>
<text x="665.70" y="497.0" class="tl" text-anchor="middle">15</text>
<line x1="418.83" y1="482.4" x2="418.83" y2="484.4" stroke="#333" stroke-width="1"/>
<line x1="418.83" y1="279.5" x2="418.83" y2="281.5" stroke="#333" stroke-width="1"/>
<line x1="473.69" y1="482.4" x2="473.69" y2="484.4" stroke="#333" stroke-width="1"/>
<line x1="473.69" y1="279.5" x2="473.69" y2="281.5" stroke="#333" stroke-width="1"/>
<line x1="528.55" y1="482.4" x2="528.55" y2="484.4" stroke="#333" stroke-width="1"/>
<line x1="528.55" y1="279.5" x2="528.55" y2="281.5" stroke="#333" stroke-width="1"/>
<line x1="583.41" y1="482.4" x2="583.41" y2="484.4" stroke="#333" stroke-width="1"/>
<line x1="583.41" y1="279.5" x2="583.41" y2="281.5" stroke="#333" stroke-width="1"/>
<line x1="638.27" y1="482.4" x2="638.27" y2="484.4" stroke="#333" stroke-width="1"/>
<line x1="638.27" y1="279.5" x2="638.27" y2="281.5" stroke="#333" stroke-width="1"/>
<line x1="387.29999999999995" y1="482.40" x2="391.4" y2="482.40" stroke="#333" stroke-width="1"/>
<line x1="661.7" y1="482.40" x2="665.7" y2="482.40" stroke="#333" stroke-width="1"/>
<text x="384.9" y="485.30" class="tl" text-anchor="end">0.02</text>
<line x1="387.29999999999995" y1="441.78" x2="391.4" y2="441.78" stroke="#333" stroke-width="1"/>
<line x1="661.7" y1="441.78" x2="665.7" y2="441.78" stroke="#333" stroke-width="1"/>
<text x="384.9" y="444.68" class="tl" text-anchor="end">0.03</text>
<line x1="387.29999999999995" y1="401.16" x2="391.4" y2="401.16" stroke="#333" stroke-width="1"/>
<line x1="661.7" y1="401.16" x2="665.7" y2="401.16" stroke="#333" stroke-width="1"/>
<text x="384.9" y="404.06" class="tl" text-anchor="end">0.04</text>
<line x1="387.29999999999995" y1="360.54" x2="391.4" y2="360.54" stroke="#333" stroke-width="1"/>
<line x1="661.7" y1="360.54" x2="665.7" y2="360.54" stroke="#333" stroke-width="1"/>
<text x="384.9" y="363.44" class="tl" text-anchor="end">0.05</text>
<line x1="387.29999999999995" y1="319.92" x2="391.4" y2="319.92" stroke="#333" stroke-width="1"/>
<line x1="661.7" y1="319.92" x2="665.7" y2="319.92" stroke="#333" stroke-width="1"/>
<text x="384.9" y="322.82" class="tl" text-anchor="end">0.06</text>
<line x1="387.29999999999995" y1="279.30" x2="391.4" y2="279.30" stroke="#333" stroke-width="1"/>
<line x1="661.7" y1="279.30" x2="665.7" y2="279.30" stroke="#333" stroke-width="1"/>
<text x="384.9" y="282.20" class="tl" text-anchor="end">0.07</text>
<line x1="389.4" y1="462.09" x2="391.4" y2="462.09" stroke="#333" stroke-width="1"/>
<line x1="663.7" y1="462.09" x2="665.7" y2="462.09" stroke="#333" stroke-width="1"/>
<line x1="389.4" y1="421.47" x2="391.4" y2="421.47" stroke="#333" stroke-width="1"/>
<line x1="663.7" y1="421.47" x2="665.7" y2="421.47" stroke="#333" stroke-width="1"/>
<line x1="389.4" y1="380.85" x2="391.4" y2="380.85" stroke="#333" stroke-width="1"/>
<line x1="663.7" y1="380.85" x2="665.7" y2="380.85" stroke="#333" stroke-width="1"/>
<line x1="389.4" y1="340.23" x2="391.4" y2="340.23" stroke="#333" stroke-width="1"/>
<line x1="663.7" y1="340.23" x2="665.7" y2="340.23" stroke="#333" stroke-width="1"/>
<line x1="389.4" y1="299.61" x2="391.4" y2="299.61" stroke="#333" stroke-width="1"/>
<line x1="663.7" y1="299.61" x2="665.7" y2="299.61" stroke="#333" stroke-width="1"/>
<text class="yl" transform="translate(359.9,379.8) rotate(-90)" text-anchor="middle">Precision</text>
<text class="al" transform="translate(527.9,505.6) scale(1.15,1)" text-anchor="middle">α</text>
<text class="cap" transform="translate(489.90,534.2) scale(1.0,1)">(d)</text>
<text class="cap" transform="translate(518.70,534.2) scale(1.0,1)">UcSoci</text>
<line x1="51.8" y1="418.3" x2="73.4" y2="418.3" stroke="#555" stroke-width="1"/>
<rect x="60.10" y="415.60" width="5.40" height="5.40" fill="#111"/>
<text class="lg" x="78.3" y="422.1">p<tspan class="sub" dy="3.4">fresher</tspan><tspan dy="-3.4">=0.05</tspan></text>
<line x1="51.8" y1="441.8" x2="73.4" y2="441.8" stroke="#f0a090" stroke-width="1"/>
<circle cx="62.8" cy="441.8" r="3.4" fill="#e0301e"/>
<text class="lg" x="78.7" y="445.6">p<tspan class="sub" dy="3.4">fresher</tspan><tspan dy="-3.4">=0.10</tspan></text>
<line x1="51.8" y1="465.3" x2="73.4" y2="465.3" stroke="#8098d0" stroke-width="1"/>
<polygon points="62.8,461.4 66.8,468.0 58.8,468.0" fill="#2f50a6"/>
<text class="lg" x="79.1" y="469.1">p<tspan class="sub" dy="3.4">fresher</tspan><tspan dy="-3.4">=0.15</tspan></text>
</svg>
</body></html>
